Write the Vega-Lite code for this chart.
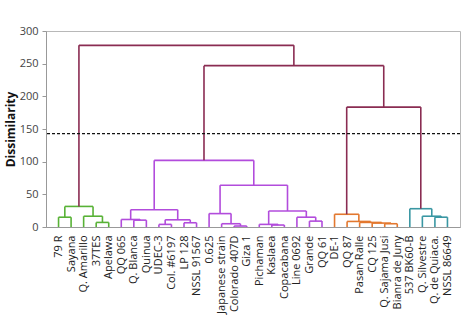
{
  "$schema": "https://vega.github.io/schema/vega-lite/v6.json",
  "width": 414,
  "height": 196,
  "autosize": {"type": "none"},
  "padding": {"left": 46, "top": 31, "right": 14, "bottom": 96},
  "background": "white",
  "config": {
    "view": {"stroke": "#b8b8b8", "strokeWidth": 1},
    "font": "Open Sans",
    "axis": {"labelOverlap": false, "grid": false, "domainColor": "#999", "tickColor": "#999"},
    "axisX": {
      "labelAngle": -90,
      "labelAlign": "right",
      "labelBaseline": "middle",
      "labelPadding": 8,
      "labelFontSize": 11,
      "labelColor": "#222",
      "labelBound": false,
      "labelFlush": false,
      "ticks": false
    },
    "axisY": {
      "titleFontSize": 12,
      "titleFontWeight": "bold",
      "titleColor": "#111",
      "titlePadding": 2,
      "labelFontSize": 11,
      "labelColor": "#444",
      "labelPadding": 4,
      "tickSize": 4
    }
  },
  "datasets": {
    "merges": [
      {"node": "G1", "xl": 1, "xr": 2, "hl": 0, "hr": 0, "h": 15, "c": "green"},
      {"node": "G2", "xl": 4, "xr": 5, "hl": 0, "hr": 0, "h": 7, "c": "green"},
      {"node": "G3", "xl": 3, "xr": 4.5, "hl": 0, "hr": 7, "h": 16.5, "c": "green"},
      {"node": "G4", "xl": 1.5, "xr": 3.75, "hl": 15, "hr": 16.5, "h": 31.5, "c": "green"},
      {"node": "P1", "xl": 7, "xr": 8, "hl": 0, "hr": 0, "h": 10.5, "c": "purple"},
      {"node": "P2", "xl": 6, "xr": 7.5, "hl": 0, "hr": 10.5, "h": 11.5, "c": "purple"},
      {"node": "P3", "xl": 9, "xr": 10, "hl": 0, "hr": 0, "h": 4, "c": "purple"},
      {"node": "P4", "xl": 11, "xr": 12, "hl": 0, "hr": 0, "h": 6.5, "c": "purple"},
      {"node": "P5", "xl": 9.5, "xr": 11.5, "hl": 4, "hr": 6.5, "h": 11, "c": "purple"},
      {"node": "P6", "xl": 6.75, "xr": 10.5, "hl": 11.5, "hr": 11, "h": 26.5, "c": "purple"},
      {"node": "P7", "xl": 15, "xr": 16, "hl": 0, "hr": 0, "h": 1.5, "c": "purple"},
      {"node": "P8", "xl": 14, "xr": 15.5, "hl": 0, "hr": 1.5, "h": 5, "c": "purple"},
      {"node": "P9", "xl": 13, "xr": 14.75, "hl": 0, "hr": 5, "h": 20.5, "c": "purple"},
      {"node": "P10", "xl": 18, "xr": 19, "hl": 0, "hr": 0, "h": 3, "c": "purple"},
      {"node": "P11", "xl": 17, "xr": 18.5, "hl": 0, "hr": 3, "h": 4, "c": "purple"},
      {"node": "P12", "xl": 21, "xr": 22, "hl": 0, "hr": 0, "h": 9, "c": "purple"},
      {"node": "P13", "xl": 20, "xr": 21.5, "hl": 0, "hr": 9, "h": 15, "c": "purple"},
      {"node": "P14", "xl": 17.75, "xr": 20.75, "hl": 4, "hr": 15, "h": 24.5, "c": "purple"},
      {"node": "P15", "xl": 13.875, "xr": 19.25, "hl": 20.5, "hr": 24.5, "h": 64, "c": "purple"},
      {"node": "P16", "xl": 8.625, "xr": 16.5625, "hl": 26.5, "hr": 64, "h": 102, "c": "purple"},
      {"node": "O1", "xl": 27, "xr": 28, "hl": 0, "hr": 0, "h": 5, "c": "orange"},
      {"node": "O2", "xl": 26, "xr": 27.5, "hl": 0, "hr": 5, "h": 6, "c": "orange"},
      {"node": "O3", "xl": 25, "xr": 26.75, "hl": 0, "hr": 6, "h": 7, "c": "orange"},
      {"node": "O4", "xl": 24, "xr": 25.875, "hl": 0, "hr": 7, "h": 8.5, "c": "orange"},
      {"node": "O5", "xl": 23, "xr": 24.9375, "hl": 0, "hr": 8.5, "h": 19.5, "c": "orange"},
      {"node": "T1", "xl": 31, "xr": 32, "hl": 0, "hr": 0, "h": 15, "c": "teal"},
      {"node": "T2", "xl": 30, "xr": 31.5, "hl": 0, "hr": 15, "h": 16.5, "c": "teal"},
      {"node": "T3", "xl": 29, "xr": 30.75, "hl": 0, "hr": 16.5, "h": 28, "c": "teal"},
      {"node": "M1", "xl": 23.96875, "xr": 29.875, "hl": 19.5, "hr": 28, "h": 183.5, "c": "maroon"},
      {"node": "M2", "xl": 12.59375, "xr": 26.921875, "hl": 102, "hr": 183.5, "h": 247, "c": "maroon"},
      {"node": "M3", "xl": 2.625, "xr": 19.7578125, "hl": 31.5, "hr": 247, "h": 278, "c": "maroon"}
    ],
    "cut": [{"level": 143}]
  },
  "layer": [
    {
      "data": {"name": "merges"},
      "mark": {"type": "rule", "strokeWidth": 1.6},
      "encoding": {
        "x": {"field": "xl", "type": "quantitative",
          "scale": {"domain": [0, 33], "nice": false, "zero": false},
          "axis": {
            "title": null,
            "tickCount": 100,
            "values": [1,2,3,4,5,6,7,8,9,10,11,12,13,14,15,16,17,18,19,20,21,22,23,24,25,26,27,28,29,30,31,32],
            "labelExpr": "['79 R','Sayana','Q. Amarillo','37TES','Apelawa','QQ 065','Q. Blanca','Quinua','UDEC-3','Col. #6197','LP 128','NSSL 91567','0.625','Japanese strain','Colorado 407D','Giza 1','Pichaman','Kaslaea','Copacabana','Line 0692','Grande','QQ 61','DE-1','QQ 87','Pasan Ralle','CQ 125','Q. Sajama Jusi','Bianra de Juny','537 BK60-B','Q. Silvestre','Q. de Quiaca.','NSSL 86649'][datum.value-1]"
          }
        },
        "x2": {"field": "xr"},
        "y": {"field": "h", "type": "quantitative",
          "scale": {"domain": [0, 300], "nice": false},
          "axis": {
            "title": "Dissimilarity",
            "tickCount": 20,
            "values": [0, 50, 100, 150, 200, 250, 300]
          }
        },
        "color": {"field": "c", "type": "nominal",
          "scale": {"domain": ["green", "purple", "orange", "teal", "maroon"],
                    "range": ["#58b236", "#b24cdc", "#e3782f", "#3a97a3", "#8a2c52"]},
          "legend": null}
      }
    },
    {
      "data": {"name": "merges"},
      "mark": {"type": "rule", "strokeWidth": 1.6},
      "encoding": {
        "x": {"field": "xl", "type": "quantitative"},
        "y": {"field": "hl", "type": "quantitative"},
        "y2": {"field": "h"},
        "color": {"field": "c", "type": "nominal", "legend": null}
      }
    },
    {
      "data": {"name": "merges"},
      "mark": {"type": "rule", "strokeWidth": 1.6},
      "encoding": {
        "x": {"field": "xr", "type": "quantitative"},
        "y": {"field": "hr", "type": "quantitative"},
        "y2": {"field": "h"},
        "color": {"field": "c", "type": "nominal", "legend": null}
      }
    },
    {
      "data": {"name": "cut"},
      "mark": {"type": "rule", "color": "#111", "strokeWidth": 1.3, "strokeDash": [3, 2]},
      "encoding": {
        "y": {"field": "level", "type": "quantitative"}
      }
    }
  ]
}
